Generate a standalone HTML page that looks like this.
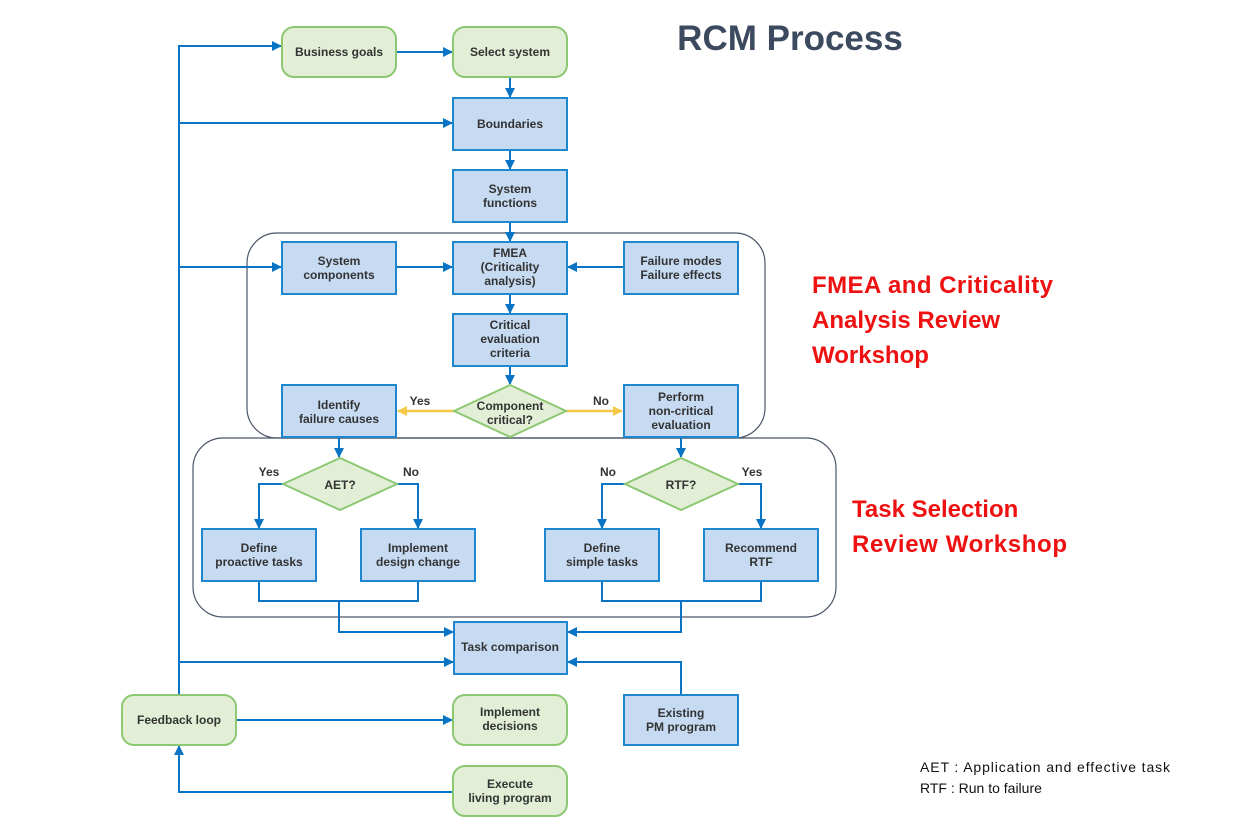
<!DOCTYPE html>
<html><head><meta charset="utf-8"><style>
body{margin:0;background:#fff;}
svg text{font-family:"Liberation Sans",sans-serif;}
.n{font-size:12px;font-weight:bold;fill:#333;text-anchor:middle;}
</style></head><body>
<svg width="1252" height="822" viewBox="0 0 1252 822" xmlns="http://www.w3.org/2000/svg">
<defs>
<marker id="a" markerWidth="10" markerHeight="10" refX="9" refY="5" orient="auto" markerUnits="userSpaceOnUse"><path d="M0,0 L10,5 L0,10z" fill="#0a74c4"/></marker>
<marker id="y" markerWidth="10" markerHeight="10" refX="9" refY="5" orient="auto" markerUnits="userSpaceOnUse"><path d="M0,0 L10,5 L0,10z" fill="#f5c84a"/></marker>
</defs>
<rect x="247" y="233" width="518" height="205" rx="30" fill="none" stroke="#4a5568" stroke-width="1.2"/>
<rect x="193" y="438" width="643" height="179" rx="30" fill="none" stroke="#4a5568" stroke-width="1.2"/>
<g fill="none" stroke="#0a74c4" stroke-width="2">
<path d="M179,695 V46 H281" marker-end="url(#a)"/>
<path d="M179,123 H452" marker-end="url(#a)"/>
<path d="M179,267 H281" marker-end="url(#a)"/>
<path d="M179,662 H453" marker-end="url(#a)"/>
<path d="M396,52 H452" marker-end="url(#a)"/>
<path d="M510,77 V97" marker-end="url(#a)"/>
<path d="M510,150 V169" marker-end="url(#a)"/>
<path d="M510,222 V241" marker-end="url(#a)"/>
<path d="M396,267 H452" marker-end="url(#a)"/>
<path d="M624,267 H568" marker-end="url(#a)"/>
<path d="M510,294 V313" marker-end="url(#a)"/>
<path d="M510,366 V384" marker-end="url(#a)"/>
<path d="M339,437 V457" marker-end="url(#a)"/>
<path d="M681,437 V457" marker-end="url(#a)"/>
<path d="M283,484 H259 V528" marker-end="url(#a)"/>
<path d="M397,484 H418 V528" marker-end="url(#a)"/>
<path d="M625,484 H602 V528" marker-end="url(#a)"/>
<path d="M738,484 H761 V528" marker-end="url(#a)"/>
<path d="M259,581 V601 H418 V581"/>
<path d="M602,581 V601 H761 V581"/>
<path d="M339,601 V632 H453" marker-end="url(#a)"/>
<path d="M681,601 V632 H568" marker-end="url(#a)"/>
<path d="M681,695 V662 H568" marker-end="url(#a)"/>
<path d="M236,720 H452" marker-end="url(#a)"/>
<path d="M453,792 H179 V746" marker-end="url(#a)"/>
</g>
<path d="M454,411 H398" stroke="#f5c84a" stroke-width="2.5" marker-end="url(#y)"/>
<path d="M566,411 H622" stroke="#f5c84a" stroke-width="2.5" marker-end="url(#y)"/>
<g fill="#e2efd6" stroke="#8cc873" stroke-width="2">
<rect x="282" y="27" width="114" height="50" rx="12"/>
<rect x="453" y="27" width="114" height="50" rx="12"/>
<rect x="122" y="695" width="114" height="50" rx="12"/>
<rect x="453" y="695" width="114" height="50" rx="12"/>
<rect x="453" y="766" width="114" height="50" rx="12"/>
<polygon points="454,411 510,385 566,411 510,437"/>
<polygon points="283,484 340,458 397,484 340,510"/>
<polygon points="625,484 681,458 738,484 681,510"/>
</g>
<g fill="#c6daf2" stroke="#1f86d0" stroke-width="2">
<rect x="453" y="98" width="114" height="52"/>
<rect x="453" y="170" width="114" height="52"/>
<rect x="282" y="242" width="114" height="52"/>
<rect x="453" y="242" width="114" height="52"/>
<rect x="624" y="242" width="114" height="52"/>
<rect x="453" y="314" width="114" height="52"/>
<rect x="282" y="385" width="114" height="52"/>
<rect x="624" y="385" width="114" height="52"/>
<rect x="202" y="529" width="114" height="52"/>
<rect x="361" y="529" width="114" height="52"/>
<rect x="545" y="529" width="114" height="52"/>
<rect x="704" y="529" width="114" height="52"/>
<rect x="454" y="622" width="113" height="52"/>
<rect x="624" y="695" width="114" height="50"/>
</g>
<g class="n">
<text x="339" y="56">Business goals</text>
<text x="510" y="56">Select system</text>
<text x="510" y="128">Boundaries</text>
<text x="510" y="193">System</text><text x="510" y="207">functions</text>
<text x="339" y="265">System</text><text x="339" y="279">components</text>
<text x="510" y="257">FMEA</text><text x="510" y="271">(Criticality</text><text x="510" y="285">analysis)</text>
<text x="681" y="265">Failure modes</text><text x="681" y="279">Failure effects</text>
<text x="510" y="329">Critical</text><text x="510" y="343">evaluation</text><text x="510" y="357">criteria</text>
<text x="339" y="409">Identify</text><text x="339" y="423">failure causes</text>
<text x="510" y="410">Component</text><text x="510" y="424">critical?</text>
<text x="681" y="401">Perform</text><text x="681" y="415">non-critical</text><text x="681" y="429">evaluation</text>
<text x="340" y="489">AET?</text>
<text x="681" y="489">RTF?</text>
<text x="259" y="552">Define</text><text x="259" y="566">proactive tasks</text>
<text x="418" y="552">Implement</text><text x="418" y="566">design change</text>
<text x="602" y="552">Define</text><text x="602" y="566">simple tasks</text>
<text x="761" y="552">Recommend</text><text x="761" y="566">RTF</text>
<text x="510" y="651">Task comparison</text>
<text x="179" y="724">Feedback loop</text>
<text x="510" y="716">Implement</text><text x="510" y="730">decisions</text>
<text x="681" y="717">Existing</text><text x="681" y="731">PM program</text>
<text x="510" y="788">Execute</text><text x="510" y="802">living program</text>
<text x="420" y="405">Yes</text><text x="601" y="405">No</text>
<text x="269" y="476">Yes</text><text x="411" y="476">No</text>
<text x="608" y="476">No</text><text x="752" y="476">Yes</text>
</g>
<text x="790" y="50" text-anchor="middle" font-size="35" font-weight="bold" fill="#3b4a5e">RCM Process</text>
<g font-size="24" font-weight="bold" fill="#ee1111">
<text x="812" y="293" textLength="241">FMEA and Criticality</text>
<text x="812" y="328">Analysis Review</text>
<text x="812" y="363">Workshop</text>
<text x="852" y="517">Task Selection</text>
<text x="852" y="552" textLength="215">Review Workshop</text>
</g>
<g font-size="14" fill="#111">
<text x="920" y="772" textLength="250">AET : Application and effective task</text>
<text x="920" y="793">RTF : Run to failure</text>
</g>
</svg>
</body></html>
